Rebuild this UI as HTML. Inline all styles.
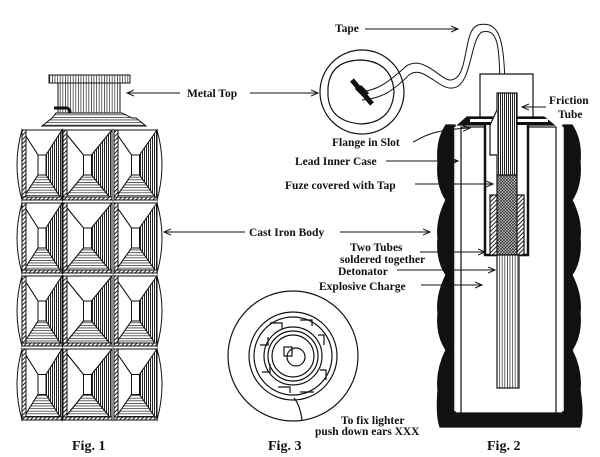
<!DOCTYPE html>
<html><head><meta charset="utf-8"><style>
html,body{margin:0;padding:0;background:#fff;width:600px;height:457px;overflow:hidden}
svg{display:block}
text{font-family:"Liberation Serif",serif;font-weight:bold;font-size:11.5px;fill:#111}
.fig{font-size:14px}
</style></head><body>
<svg id="s" width="600" height="457" viewBox="0 0 600 457" xmlns="http://www.w3.org/2000/svg">
<defs>
<pattern id="hh" width="3" height="2.6" patternUnits="userSpaceOnUse"><rect width="3" height="2.6" fill="#fff"/><rect width="3" height="0.7" fill="#222"/></pattern>
<pattern id="vv" width="2.6" height="3" patternUnits="userSpaceOnUse"><rect width="2.6" height="3" fill="#fff"/><rect width="0.7" height="3" fill="#222"/></pattern>
<pattern id="vd" width="2" height="3" patternUnits="userSpaceOnUse"><rect width="2" height="3" fill="#fff"/><rect width="1" height="3" fill="#222"/></pattern>
<pattern id="dg" width="3" height="3" patternUnits="userSpaceOnUse" patternTransform="rotate(45)"><rect width="3" height="3" fill="#fff"/><rect width="1" height="3" fill="#222"/></pattern>
<pattern id="xx" width="3" height="3" patternUnits="userSpaceOnUse"><rect width="3" height="3" fill="#bbb"/><path d="M0 0L3 3M3 0L0 3" stroke="#222" stroke-width="0.6"/></pattern>
<marker id="a" markerWidth="8" markerHeight="8" refX="7" refY="4" orient="auto"><path d="M0 1L7 4L0 7" fill="none" stroke="#111" stroke-width="1"/></marker>
</defs>
<g id="f1" stroke="#111" stroke-width="1" fill="none">
<rect x="49" y="75" width="81" height="8" fill="url(#vv)"/>
<rect x="58" y="83" width="62" height="30" fill="url(#vv)"/>
<path d="M54 108h12a4 4 0 0 1 0 8h-6v4" stroke-width="3"/>
<path d="M56 113h66l10 5h4l10 8H42l10-8z" fill="url(#hh)"/>
</g>
<g id="cells"></g>
<!-- Fig 3 -->
<g stroke="#111" fill="none" stroke-width="1.2">
<circle cx="293" cy="356" r="65"/>
<circle cx="293" cy="356" r="44"/>
<circle cx="293" cy="356" r="39"/>
<circle cx="293" cy="356" r="29"/>
<circle cx="293" cy="356" r="25"/>
<circle cx="293" cy="356" r="21"/>
<circle cx="296" cy="357" r="9"/>
<rect x="284" y="347" width="8" height="9"/>
<path d="M270 323h12v6M300 320h12v6M318 335h6v10M320 370h6v10M300 392h14M278 387h12v6M262 372h8v-8M260 345h8v-8"/>
<path d="M302 420 Q 300 405 294 398"/>
</g>
<!-- Fig top tape circle -->
<g stroke="#111" fill="none" stroke-width="1.2">
<circle cx="362" cy="92" r="42"/>
<path d="M328 88 Q330 60 362 60 Q392 62 394 92 Q392 122 362 124 Q330 122 328 96z"/>
<path d="M352 80 L372 104" stroke-width="5"/>
<path d="M360 92 C 380 90, 390 80, 402 70 C 420 50, 440 80, 450 80 C 470 80, 462 30, 478 25 C 500 20, 505 40, 505 95" stroke-width="1"/>
<path d="M362 100 C 385 98, 395 88, 406 78 C 420 60, 438 90, 452 88 C 472 88, 470 38, 482 32 C 498 28, 500 45, 500 95" stroke-width="1"/>
<path d="M356 88 l8 8 M360 86 l8 8" stroke-width="3"/>
</g>
<!-- Fig 2 -->
<g stroke="#111" stroke-width="1.2">
<path d="M452 125 H446 Q436 140 438 162 Q436 185 446 200 Q436 220 438 238 Q436 260 446 275 Q436 295 438 313 Q436 335 446 350 Q436 370 438 390 Q436 415 440 427 H580 Q584 415 580 390 Q582 370 572 350 Q582 335 580 313 Q582 295 572 275 Q582 260 580 238 Q582 220 572 200 Q582 185 580 162 Q582 140 572 125 H563 V413 H455 V125z" fill="#111"/>
<path d="M455 127 V411 M563 127 V411" stroke="#fff" stroke-width="1.5"/>
<rect x="461" y="127" width="95" height="286" fill="#fff"/>
<path d="M480 117 V74 H533 V117" fill="#fff"/>
<path d="M458 125 L467 117 H544 L554 125 Z" fill="#111"/>
<rect x="470" y="119" width="78" height="3" fill="#fff" stroke="none"/>
<path d="M485 125 V255 H528 V125" fill="#fff" stroke-width="2.5"/>
<rect x="490" y="195" width="34" height="60" fill="url(#dg)"/>
<rect x="497" y="175" width="20" height="80" fill="url(#xx)"/>
<rect x="497" y="93" width="20" height="82" fill="url(#vd)"/>
<path d="M497 110 L490 125 V155 H497" fill="#fff"/>
<rect x="497" y="255" width="22" height="133" fill="url(#vv)"/>
</g>
<!-- leaders -->
<g stroke="#111" stroke-width="1" fill="none" marker-end="url(#a)">
<path d="M180 93 H127"/><path d="M250 93 H318"/>
<path d="M245 232 H164"/><path d="M340 232 H430"/>
<path d="M365 29 H458"/>
<path d="M546 107 H522"/>
<path d="M413 142 C 420 140 425 130 470 128"/>
<path d="M386 161 H458"/>
<path d="M415 184 H493"/>
<path d="M420 252 H485"/>
<path d="M397 270 H495"/>
<path d="M421 285 H482"/>
</g>
<text x="187" y="97">Metal Top</text>
<text x="249" y="236">Cast Iron Body</text>
<text x="335" y="32">Tape</text>
<text x="549" y="104">Friction</text>
<text x="558" y="118">Tube</text>
<text x="332" y="146">Flange in Slot</text>
<text x="295" y="165">Lead Inner Case</text>
<text x="285" y="189">Fuze covered with Tap</text>
<text x="350" y="251">Two Tubes</text>
<text x="340" y="263">soldered together</text>
<text x="338" y="275">Detonator</text>
<text x="319" y="290">Explosive Charge</text>
<text x="341" y="424">To fix lighter</text>
<text x="315" y="435">push down ears XXX</text>
<text x="72" y="450" class="fig">Fig. 1</text>
<text x="268" y="450" class="fig">Fig. 3</text>
<text x="487" y="450" class="fig">Fig. 2</text>
</svg>
<script>
var g=document.getElementById('cells'),N='http://www.w3.org/2000/svg';
function el(t,a){var e=document.createElementNS(N,t);for(var k in a)e.setAttribute(k,a[k]);g.appendChild(e);}
var cols=[[22,62],[63,112],[114,157]],rows=[[130,200],[203,273],[276,346],[349,420]];
rows.forEach(function(r){
 el('path',{d:'M22 '+r[0]+' Q12 '+((r[0]+r[1])/2)+' 22 '+r[1]+' M157 '+r[0]+' Q167 '+((r[0]+r[1])/2)+' 157 '+r[1],stroke:'#111',fill:'none'});
 cols.forEach(function(c){
  var x0=c[0],x1=c[1],y0=r[0],y1=r[1],cx=(x0+x1)/2,cy=(y0+y1)/2,iw=4,ih=10;
  var ix0=cx-iw,ix1=cx+iw,iy0=cy-ih,iy1=cy+ih;
  el('rect',{x:x0,y:y0,width:x1-x0,height:y1-y0,fill:'#fff',stroke:'#111'});
  el('polygon',{points:[x0,y0,x1,y0,ix1,iy0,ix0,iy0].join(' '),fill:'#fff',stroke:'#111'});
  el('polygon',{points:[x0,y0,ix0,iy0,ix0,iy1,x0,y1].join(' '),fill:'#fff',stroke:'#111'});
  el('polygon',{points:[x1,y0,ix1,iy0,ix1,iy1,x1,y1].join(' '),fill:'url(#vd)',stroke:'#111'});
  el('polygon',{points:[x0,y1,x1,y1,ix1,iy1,ix0,iy1].join(' '),fill:'url(#hh)',stroke:'#111'});
  el('rect',{x:ix0,y:iy0,width:iw*2,height:ih*2,fill:'#fff',stroke:'#111'});
  el('rect',{x:x0,y:y0,width:4,height:y1-y0,fill:'url(#dg)',stroke:'#111'});
  el('rect',{x:x0,y:y1-3,width:x1-x0,height:3,fill:'url(#dg)',stroke:'#111'});
 });
});
</script>
</body></html>
